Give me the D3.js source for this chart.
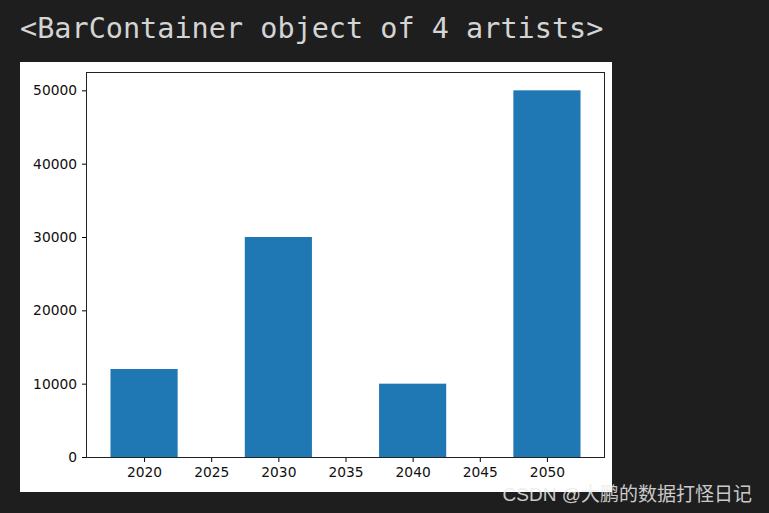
<!DOCTYPE html>
<html>
<head>
<meta charset="utf-8">
<script src="https://cdn.jsdelivr.net/npm/d3@7"></script>
<style>
  html, body { margin: 0; padding: 0; background: #1e1e1e; }
  svg { display: block; }
</style>
</head>
<body>
<svg id="chart" width="769" height="513"></svg>
<script>
// data
const years = [2020, 2030, 2040, 2050]
const values = [12000, 30000, 10000, 50000]
const xTicks = [2020, 2025, 2030, 2035, 2040, 2045, 2050]
const yTicks = [0, 10000, 20000, 30000, 40000, 50000]
const barWidth = 5 // in years, like plt.bar(width=5)

const headerText = "<BarContainer object of 4 artists>"
const watermark = "CSDN @大鹏的数据打怪日记"

let svg = d3.select("#chart")

// notebook output line
svg.append("text")
   .attr("x", 20)
   .attr("y", 38)
   .attr("fill", "#d4d4d4")
   .style("font-family", "'DejaVu Sans Mono', monospace")
   .style("font-size", "28.5px")
   .text(headerText)

// figure (white png)
let fig = { x: 20, y: 62, w: 592, h: 430 }
svg.append("rect")
   .attr("x", fig.x).attr("y", fig.y)
   .attr("width", fig.w).attr("height", fig.h)
   .attr("fill", "#fff")

// axes box
let margin = { left: 87, right: 604, top: 72, bottom: 457 }

// matplotlib adds 5% padding on x
let xmin = years[0] - barWidth / 2, xmax = years[years.length - 1] + barWidth / 2
let pad = (xmax - xmin) * 0.05

let x = d3.scaleLinear()
   .domain([xmin - pad, xmax + pad])
   .range([margin.left, margin.right])

let y = d3.scaleLinear()
   .domain([0, d3.max(values) * 1.05])
   .range([margin.bottom, margin.top])

let g = svg.append("g")

// bars
g.selectAll("rect.bar").data(years)
   .join("rect")
   .attr("class", "bar")
   .attr("x", d => x(d - barWidth / 2))
   .attr("width", d => x(d + barWidth / 2) - x(d - barWidth / 2))
   .attr("y", (d, i) => y(values[i]))
   .attr("height", (d, i) => y(0) - y(values[i]))
   .attr("fill", "#1f77b4")

const tickFont = "'DejaVu Sans', sans-serif"

let xAxis = d3.axisBottom(x)
   .tickValues(xTicks)
   .tickFormat(d => d)
   .tickSize(4.5)
   .tickPadding(5)

let yAxis = d3.axisLeft(y)
   .tickValues(yTicks)
   .tickFormat(d => d)
   .tickSize(4.5)
   .tickPadding(5)

let xg = svg.append("g")
   .attr("transform", "translate(0," + (margin.bottom + 0.5) + ")")
   .call(xAxis)

let yg = svg.append("g")
   .attr("transform", "translate(" + (margin.left - 0.5) + ",0)")
   .call(yAxis)

;[xg, yg].forEach(ax => {
   ax.select(".domain").remove()
   ax.selectAll(".tick line").attr("stroke", "#000").attr("stroke-width", 1)
   ax.selectAll(".tick text")
      .attr("fill", "#111")
      .style("font-family", tickFont)
      .style("font-size", "13.8px")
})

// spines
svg.append("rect")
   .attr("x", margin.left - 0.5)
   .attr("y", margin.top + 0.5)
   .attr("width", margin.right - margin.left + 1)
   .attr("height", margin.bottom - margin.top)
   .attr("fill", "none")
   .attr("stroke", "#222")
   .attr("stroke-width", 1)

// watermark
svg.append("text")
   .attr("x", 752)
   .attr("y", 501)
   .attr("text-anchor", "end")
   .attr("fill", "rgba(235,235,235,0.85)")
   .style("font-family", "'Liberation Sans', 'Noto Sans CJK SC', sans-serif")
   .style("font-size", "19px")
   .text(watermark)
</script>
</body>
</html>
